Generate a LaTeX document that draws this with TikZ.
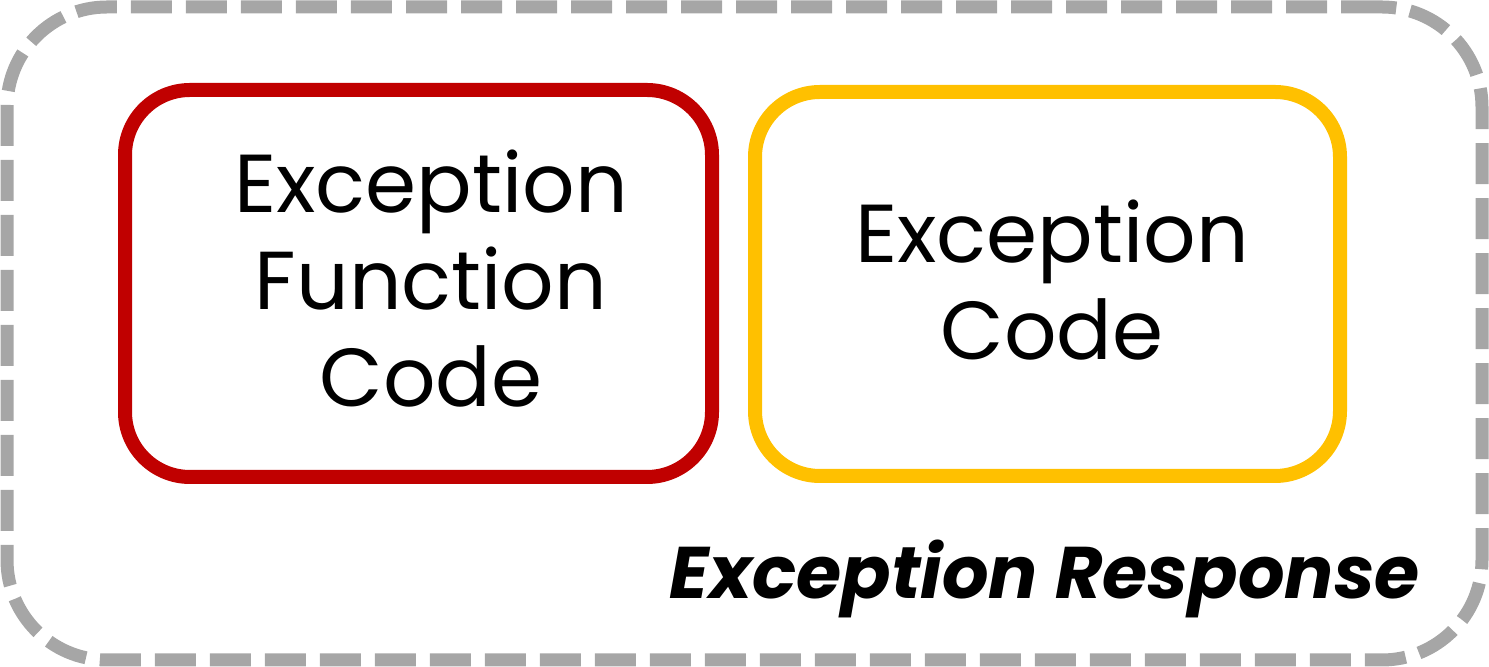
\documentclass[tikz,border=0pt]{standalone}
\usepackage{fontspec}
\setmainfont{Poppins}
\usepackage{tikz}
\usetikzlibrary{positioning}
\definecolor{framegray}{HTML}{A6A6A6}
\definecolor{boxred}{HTML}{C00000}
\definecolor{boxyellow}{HTML}{FFC000}
\tikzset{
    myframe/.style = {rectangle, draw=framegray, line width=0.13cm, rounded corners=1cm,
      dash pattern=on 0.41cm off 0.14cm, minimum width=14.75cm, minimum height=6.53cm},
    myboxr/.style = {rectangle, draw=boxred, line width=0.14cm, rounded corners=0.65cm,
      minimum width=5.87cm, minimum height=3.87cm},
    myboxy/.style = {rectangle, draw=boxyellow, line width=0.14cm, rounded corners=0.65cm,
      minimum width=5.85cm, minimum height=3.84cm},
    mytext/.style = {align=center, inner sep=0pt, font=\fontsize{23.4}{27.6}\selectfont},
    mylabel/.style = {inner sep=0pt, font=\fontsize{20.8}{25}\selectfont\bfseries\itshape}
}

\begin{document}
\begin{tikzpicture}
  \useasboundingbox (0,0) rectangle (14.89,6.67);
  \node (frame) at (7.445,3.335) [myframe] {};
  % the two fields
  \node (fcode) at (4.185,3.835) [myboxr] {};
  \node (ecode) at (10.475,3.83) [myboxy] {};
  \node (fcodetext) at (4.31,3.88) [mytext] {Exception\\Function\\Code};
  \node (ecodetext) at (10.52,3.87) [mytext] {Exception\\Code};
  \node (title) at (6.69,0.68) [mylabel,anchor=base west] {Exception Response};
\end{tikzpicture}
\end{document}
